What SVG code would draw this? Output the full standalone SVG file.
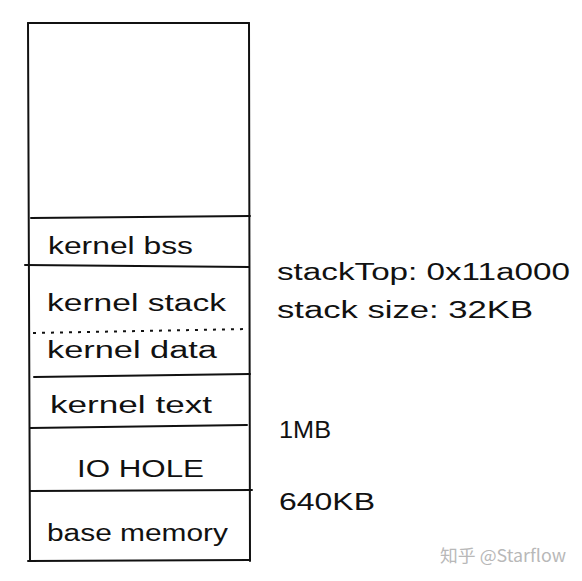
<svg xmlns="http://www.w3.org/2000/svg" width="582" height="581" viewBox="0 0 582 581">
<style>
.ln{stroke:#111;stroke-width:2;fill:none;stroke-linecap:round}
.dot{stroke:#111;stroke-width:2;fill:none;stroke-dasharray:3 6}
.t{font-family:"Liberation Sans","Open Sans",sans-serif;font-size:23px;fill:#111}
.w{font-family:"Noto Sans CJK SC","Liberation Sans",sans-serif;font-size:17px;fill:#b8b8b8}
</style>
<rect width="582" height="581" fill="#fff"/>
<g id="connectors">
<path class="ln" d="M28,23 L30,561"/>
<path class="ln" d="M249,23 L250,561"/>
<path class="ln" d="M28,23 L249,23"/>
<path class="ln" d="M31,218 L250,216"/>
<path class="ln" d="M25,265 L249,267"/>
<path class="dot" d="M33,333 L249,329"/>
<path class="ln" d="M34,377 L250,374"/>
<path class="ln" d="M30,428 L247,425"/>
<path class="ln" d="M30,491 L252,490"/>
<path class="ln" d="M28,561 L250,560"/>
</g>
<g id="free"></g>
<g id="kernel-bss"><text class="t" x="48" y="254" textLength="145" lengthAdjust="spacingAndGlyphs">kernel bss</text></g>
<g id="kernel-stack"><text class="t" x="47" y="311" textLength="179" lengthAdjust="spacingAndGlyphs">kernel stack</text></g>
<g id="kernel-data"><text class="t" x="47" y="358" textLength="170" lengthAdjust="spacingAndGlyphs">kernel data</text></g>
<g id="kernel-text"><text class="t" x="50" y="413" textLength="162" lengthAdjust="spacingAndGlyphs">kernel text</text></g>
<g id="io-hole"><text class="t" x="77" y="477" textLength="127" lengthAdjust="spacingAndGlyphs">IO HOLE</text></g>
<g id="base-memory"><text class="t" x="47" y="541" textLength="181" lengthAdjust="spacingAndGlyphs">base memory</text></g>
<g id="labels">
<text class="t" x="277" y="280" textLength="293" lengthAdjust="spacingAndGlyphs">stackTop: 0x11a000</text>
<text class="t" x="277" y="318" textLength="256" lengthAdjust="spacingAndGlyphs">stack size: 32KB</text>
<text class="t" x="279" y="438" textLength="52" lengthAdjust="spacingAndGlyphs">1MB</text>
<text class="t" x="279" y="510" textLength="96" lengthAdjust="spacingAndGlyphs">640KB</text>
</g>
<text class="w" x="440" y="562" textLength="126" lengthAdjust="spacingAndGlyphs">知乎 @Starflow</text>
</svg>
